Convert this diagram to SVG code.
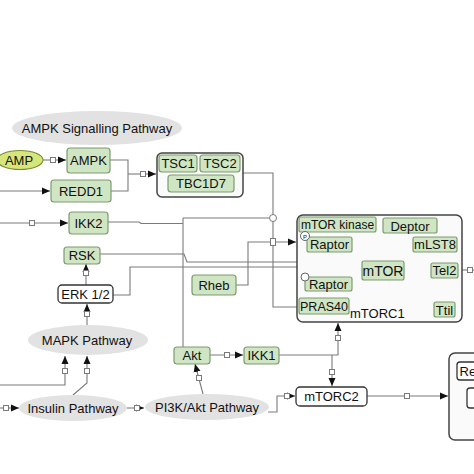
<svg xmlns="http://www.w3.org/2000/svg" width="474" height="474" viewBox="0 0 474 474">
<defs>
<style>
text{font-family:"Liberation Sans",Arial,sans-serif;font-size:13px;fill:#111;text-anchor:middle}
.g{fill:#cfe5c3;stroke:#7d9c70;stroke-width:1.2}
.w{fill:#fff;stroke:#333;stroke-width:1.3}
.cx{fill:#fafafa;stroke:#444;stroke-width:1.5}
.el{fill:#e2e2e2;stroke:none}
.ln{fill:none;stroke:#7a7a7a;stroke-width:1.1}
.ar{fill:none;stroke:#7a7a7a;stroke-width:1.1;marker-end:url(#a)}
.sq{fill:#fff;stroke:#7a7a7a;stroke-width:1}
</style>
<marker id="a" viewBox="0 0 8 8" refX="8" refY="4" markerWidth="8" markerHeight="8" markerUnits="userSpaceOnUse" orient="auto">
<path d="M0,0.5 L8,4 L0,7.5 Z" fill="#111"/>
</marker>
<marker id="b" viewBox="0 0 8 8" refX="0" refY="4" markerWidth="8" markerHeight="8" markerUnits="userSpaceOnUse" orient="auto">
<path d="M8,0.5 L0,4 L8,7.5 Z" fill="#111"/>
</marker>
</defs>

<g id="connectors">
<path class="ar" d="M43,160 H66"/>
<path class="ln" d="M110,160 H128 V191 H111"/>
<path class="ar" d="M128,174 H156"/>
<path class="ar" d="M0,191 H50"/>
<path class="ar" d="M0,223 H68"/>
<path class="ln" d="M108,222 H139 L141,223.5 H183"/>
<path class="ln" d="M183,218 V348"/>
<path class="ln" d="M183,218 H269.5"/>
<path class="ln" d="M243,173 H273 V307 H298"/>
<path class="ar" d="M236,285 H248 V242 H296"/>
<path class="ln" d="M100,254 H184 L187,262 H322"/>
<path class="ln" d="M113,295 H130 V267 H322"/>
<path class="ar" d="M329,277 V253"/>
<path class="ar" d="M340,252 V270 H361"/>
<path class="ar" d="M376,232 V248 H392 V260"/>
<path class="ln" d="M396,233 L392,248"/>
<path class="ln" d="M433,252 L418,268"/>
<path class="ar" d="M431,270 H405"/>
<path class="ar" d="M436,303 L400,281"/>
<path class="ln" d="M443,279 V301" marker-start="url(#b)" marker-end="url(#a)"/>
<path class="ln" d="M458,270 H474"/>
<path class="ar" d="M203,394 L195,364"/>
<path class="ar" d="M210,355 H243"/>
<path class="ar" d="M279,355 H338 V323"/>
<path class="ar" d="M332,355 V386"/>
<path class="ar" d="M268,412 H277 V396 H295"/>
<path class="ar" d="M367,396 H448"/>
<path class="ar" d="M87,325 V304"/>
<path class="ar" d="M86,285 V264"/>
<path class="ar" d="M0,385 H65 V356"/>
<path class="ar" d="M73,395 L87,383 V356"/>
<path class="ar" d="M0,408 H19"/>
<path class="ar" d="M127,408 H144"/>
<circle class="sq" cx="273" cy="218" r="3.5"/>
<circle class="sq" cx="325" cy="264" r="3"/>
<rect class="sq" x="50.5" y="157.5" width="5" height="5"/>
<rect class="sq" x="140.5" y="171.5" width="5" height="5"/>
<rect class="sq" x="29.5" y="220.5" width="5" height="5"/>
<rect class="sq" x="270.5" y="238.5" width="5" height="7"/>
<rect class="sq" x="326.5" y="261.5" width="5" height="5"/>
<rect class="sq" x="348.5" y="267.5" width="5" height="5"/>
<rect class="sq" x="382.5" y="245.5" width="5" height="5"/>
<rect class="sq" x="414.5" y="267.5" width="5" height="5"/>
<rect class="sq" x="440.5" y="287.5" width="5" height="5"/>
<rect class="sq" x="467.5" y="267.5" width="5" height="5" fill="#333"/>
<path class="sq" d="M427,255.5 L430.5,259 L427,262.5 L423.5,259 Z"/>
<path class="sq" d="M405,281.5 L408.5,285 L405,288.5 L401.5,285 Z"/>
<rect class="sq" x="196.5" y="375.5" width="5" height="5"/>
<rect class="sq" x="224.5" y="352.5" width="5" height="5"/>
<rect class="sq" x="335.5" y="335.5" width="5" height="5"/>
<rect class="sq" x="329.5" y="369.5" width="5" height="5"/>
<rect class="sq" x="284.5" y="393.5" width="5" height="5"/>
<rect class="sq" x="404.5" y="393.5" width="5" height="5"/>
<rect class="sq" x="84.5" y="311.5" width="5" height="5"/>
<rect class="sq" x="83.5" y="270.5" width="5" height="5"/>
<rect class="sq" x="62.5" y="368.5" width="5" height="5"/>
<rect class="sq" x="84.5" y="368.5" width="5" height="5"/>
<rect class="sq" x="3.5" y="405.5" width="5" height="5"/>
<rect class="sq" x="134.5" y="405.5" width="5" height="5"/>
</g>

<g id="ampk-pathway"><ellipse class="el" cx="97" cy="128" rx="85" ry="17"/><text x="97" y="132.5">AMPK Signalling Pathway</text></g>
<g id="amp"><ellipse cx="20" cy="160" rx="23" ry="9.5" fill="#d6e67a" stroke="#7a8a30" stroke-width="1.1"/><text x="19" y="165">AMP</text></g>
<g id="ampk"><rect class="g" x="67" y="148" width="43" height="25" rx="3"/><text x="88.5" y="165">AMPK</text></g>
<g id="redd1"><rect class="g" x="51" y="180" width="60" height="22" rx="3"/><text x="81" y="196">REDD1</text></g>
<g id="ikk2"><rect class="g" x="69" y="212" width="39" height="22" rx="3"/><text x="88.5" y="228">IKK2</text></g>
<g id="tsc-complex">
<rect class="cx" x="157" y="153" width="86" height="44" rx="5"/>
<rect class="g" x="159" y="155" width="38" height="17" rx="3"/><text x="178" y="168">TSC1</text>
<rect class="g" x="200" y="155" width="40" height="17" rx="3"/><text x="220" y="168">TSC2</text>
<rect class="g" x="168" y="175" width="66" height="17" rx="3"/><text x="201" y="188">TBC1D7</text>
</g>
<g id="rsk"><rect class="g" x="64" y="247" width="36" height="17" rx="3"/><text x="82" y="260">RSK</text></g>
<g id="erk"><rect class="w" x="58" y="285" width="55" height="18" rx="4"/><text x="85.5" y="299">ERK 1/2</text></g>
<g id="rheb"><rect class="g" x="192" y="275" width="44" height="20" rx="3"/><text x="214" y="290">Rheb</text></g>
<g id="mapk"><ellipse class="el" cx="88" cy="340" rx="60" ry="15"/><text x="87" y="345">MAPK Pathway</text></g>
<g id="insulin"><ellipse class="el" cx="73" cy="408" rx="54" ry="13"/><text x="73" y="413">Insulin Pathway</text></g>
<g id="pi3k"><ellipse class="el" cx="207" cy="407" rx="62" ry="13"/><text x="207" y="412">PI3K/Akt Pathway</text></g>
<g id="akt"><rect class="g" x="174" y="347" width="36" height="17" rx="3"/><text x="192" y="360">Akt</text></g>
<g id="ikk1"><rect class="g" x="244" y="347" width="35" height="17" rx="3"/><text x="261.5" y="360">IKK1</text></g>
<g id="mtorc2"><rect class="w" x="296" y="387" width="71" height="19" rx="4"/><text x="331.5" y="401">mTORC2</text></g>
<g id="mtorc1">
<rect class="cx" x="297" y="215" width="165" height="107" rx="6"/>
<rect class="g" x="299" y="217" width="77" height="15" rx="2"/><text x="337.5" y="229" style="font-size:12px">mTOR kinase</text>
<rect class="g" x="383" y="218" width="54" height="15" rx="2"/><text x="410" y="230.5">Deptor</text>
<rect class="g" x="307" y="237" width="45" height="15" rx="2"/><text x="329.5" y="249">Raptor</text>
<circle cx="305" cy="236" r="4.5" fill="#fff" stroke="#555" stroke-width="0.9"/><text x="305" y="238.5" style="font-size:6px">P</text>
<rect class="g" x="305" y="277" width="47" height="14" rx="2"/><text x="328.5" y="289">Raptor</text>
<circle cx="305" cy="277" r="4" fill="#fff" stroke="#555" stroke-width="0.9"/>
<rect class="g" x="362" y="261" width="42" height="19" rx="2"/><text x="383" y="276" style="font-size:14px">mTOR</text>
<rect class="g" x="413" y="237" width="44" height="15" rx="2"/><text x="435" y="249">mLST8</text>
<rect class="g" x="431" y="263" width="27" height="15" rx="2"/><text x="444.5" y="275">Tel2</text>
<rect class="g" x="299" y="298" width="50" height="16" rx="2"/><text x="324" y="310.5" style="font-size:12.5px">PRAS40</text>
<rect class="g" x="434" y="302" width="21" height="15" rx="2"/><text x="444.5" y="314.5">Ttil</text>
<text x="350" y="318" style="text-anchor:start">mTORC1</text>
</g>
<g id="right-complex">
<rect class="cx" x="449" y="353" width="40" height="87" rx="6"/>
<rect class="w" x="457" y="362" width="30" height="18" rx="3"/><text x="459.5" y="376" style="text-anchor:start">Re</text>
<rect class="w" x="467" y="388" width="20" height="20" rx="3"/>
</g>
</svg>
